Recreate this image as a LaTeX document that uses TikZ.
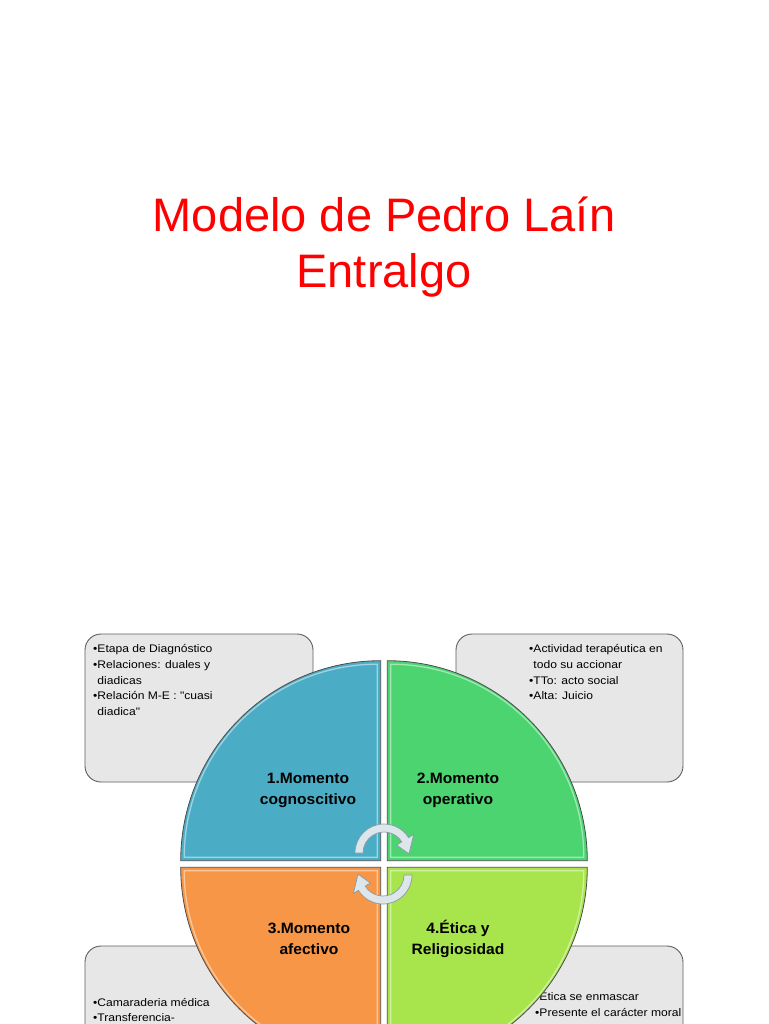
\documentclass[tikz,border=0pt]{standalone}
\usepackage{fontspec}
\setmainfont{Liberation Sans}
\newfontfamily\boxfont[FakeStretch=1.1]{Liberation Sans}
\newfontfamily\labelfont[FakeStretch=1.04]{Liberation Sans}
\definecolor{qblue}{HTML}{4BACC6}
\definecolor{qgreen}{HTML}{4BD470}
\definecolor{qorange}{HTML}{F79646}
\definecolor{qlime}{HTML}{A8E44C}
\definecolor{boxfill}{HTML}{E7E7E7}
\definecolor{boxline}{HTML}{5F5F5F}
\definecolor{titlered}{HTML}{FF0000}
\definecolor{arrowfill}{HTML}{DCE6EB}
\definecolor{arrowline}{HTML}{8A9BA5}
\tikzset{
  infobox/.style={draw=boxline, fill=boxfill, line width=0.9pt, rounded corners=16pt},
  infotext/.style={anchor=north west, inner sep=0pt, align=left, font=\boxfont\fontsize{11}{15.6}\selectfont},
  quad/.style={draw=black!70, line width=0.8pt},
  shine/.style={line width=1.3pt, opacity=0.8},
  qlabel/.style={align=center, inner sep=0pt, font=\labelfont\bfseries\fontsize{15}{21}\selectfont},
  titletext/.style={anchor=base, inner sep=0pt, text=titlered, font=\fontsize{47}{55}\selectfont},
  cyclearrow/.style={fill=arrowfill, draw=arrowline, line width=0.7pt},
  cyc/.pic={\draw[cyclearrow] (180:29) arc[start angle=180,end angle=32,radius=29] -- (32:35) -- (-2:25) -- (32:15) -- (32:21) arc[start angle=32,end angle=180,radius=21] -- cycle;}
}
\begin{document}
\begin{tikzpicture}[x=1pt,y=-1pt]
\useasboundingbox (0,0) rectangle (768,1024);
\clip (0,0) rectangle (768,1024);
\fill[white] (0,0) rectangle (768,1024);

% title
\node[titletext] (t1) at (384,232) {Modelo de Pedro Laín};
\node[titletext] (t2) at (384,287) {Entralgo};

% information boxes
\draw[infobox] (85,634) rectangle (313,782);
\draw[infobox] (456,634) rectangle (683,782);
\draw[infobox] (85,946) rectangle (313,1094);
\draw[infobox] (456,946) rectangle (683,1094);

\node[infotext] (b1) at (93,644.5) {•Etapa de Diagnóstico\\•Relaciones: duales y\\\hphantom{•}diadicas\\•Relación M-E : "cuasi\\\hphantom{•}diadica"};
\node[infotext] (b2) at (529,644.5) {•Actividad terapéutica en\\\hphantom{•}todo su accionar\\•TTo: acto social\\•Alta: Juicio};
\node[infotext] (b3) at (93,998) {•Camaraderia médica\\•Transferencia-\\\hphantom{•}contratransferencia};
\node[infotext] (b4) at (535,991) {•Ética se enmascar\\•Presente el carácter moral};

% quadrants
\draw[quad, fill=qblue] (380.7,860.7) -- ++(-200,0) arc[start angle=180,end angle=270,radius=200] -- cycle;
\draw[quad, fill=qgreen] (387.3,860.7) -- ++(0,-200) arc[start angle=270,end angle=360,radius=200] -- cycle;
\draw[quad, fill=qlime] (387.3,867.3) -- ++(200,0) arc[start angle=0,end angle=90,radius=200] -- cycle;
\draw[quad, fill=qorange] (380.7,867.3) -- ++(0,200) arc[start angle=90,end angle=180,radius=200] -- cycle;

\draw[shine, qblue!40!white] (377.2,857.2) -- ++(-193,0) arc[start angle=180,end angle=270,radius=193] -- cycle;
\draw[shine, qgreen!40!white] (390.8,857.2) -- ++(0,-193) arc[start angle=270,end angle=360,radius=193] -- cycle;
\draw[shine, qlime!40!white] (390.8,870.8) -- ++(193,0) arc[start angle=0,end angle=90,radius=193] -- cycle;
\draw[shine, qorange!40!white] (377.2,870.8) -- ++(0,193) arc[start angle=90,end angle=180,radius=193] -- cycle;

% labels
\node[qlabel] (l1) at (308,790) {1.Momento\\cognoscitivo};
\node[qlabel] (l2) at (458,790) {2.Momento\\operativo};
\node[qlabel] (l3) at (309,938.5) {3.Momento\\afectivo};
\node[qlabel] (l4) at (458,938.5) {4.Ética y\\Religiosidad};

% cycle arrows
\pic[yscale=-1] at (384,853) {cyc};
\pic[yscale=-1, rotate=180] at (383,875) {cyc};
\end{tikzpicture}
\end{document}
